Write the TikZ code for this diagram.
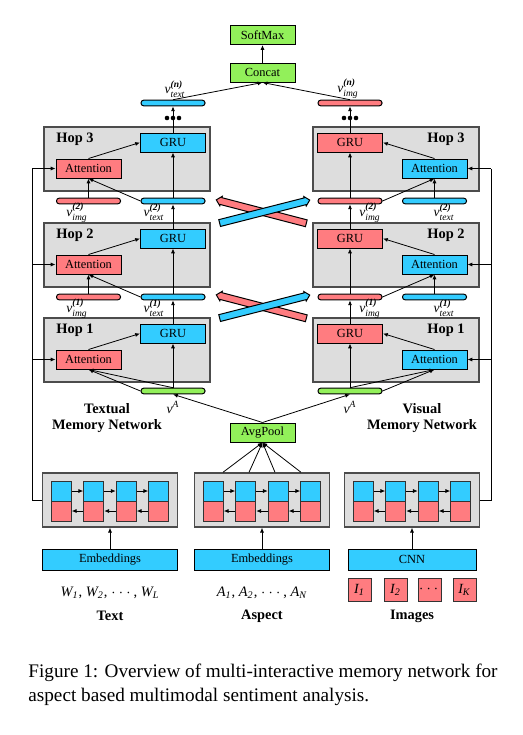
\documentclass[tikz,border=0pt]{standalone}
\usepackage{amsmath}
\usepackage{fontspec}
\setmainfont{Liberation Serif}
\usetikzlibrary{arrows.meta,shapes.arrows}
\definecolor{txtblue}{RGB}{51,204,255}
\definecolor{imgred}{RGB}{255,124,128}
\definecolor{poolgreen}{RGB}{146,240,90}
\definecolor{hopgray}{RGB}{221,221,221}
\newcommand{\vvec}[2]{$\textit{v}^{\textbf{\textit{(#2)}}}_{\textit{#1}}$}

\begin{document}
\begin{tikzpicture}[x=0.5pt,y=-0.5pt,
      pointers/.style={-{Latex[length=2.4pt,width=2pt]},line width=0.4pt},%
      hop/.style={draw=black!70,fill=hopgray,line width=0.7pt,%
        minimum width=83pt,minimum height=32pt,inner sep=0pt},%
      encoder/.style={hop,minimum width=67.5pt,minimum height=27pt},%
      unit/.style={draw,line width=0.5pt,minimum width=32.5pt,%
        minimum height=9.5pt,inner sep=0pt,font=\fontsize{6.2}{7}\selectfont},%
      blueunit/.style={unit,fill=txtblue},%
      redunit/.style={unit,fill=imgred},%
      greenunit/.style={unit,fill=poolgreen},%
      embed/.style={unit,fill=txtblue,minimum width=67.5pt,minimum height=10.5pt},%
      cell/.style={draw=black!80,line width=0.5pt,minimum size=10pt,inner sep=0pt},%
      vecbar/.style={draw,line width=0.5pt,rounded corners=1.3pt,%
        minimum width=32pt,minimum height=2.8pt,inner sep=0pt},%
      crossarrow/.style={single arrow,draw,line width=0.5pt,minimum height=46.5pt,%
        inner xsep=0pt,inner ysep=1.5pt,single arrow head extend=0.7pt},%
      hoplabel/.style={font=\fontsize{7.2}{8}\selectfont\bfseries},%
      vlabel/.style={font=\fontsize{6.8}{8}\selectfont,inner sep=0pt},%
      inlabel/.style={font=\fontsize{7.2}{8}\selectfont},%
      caption/.style={font=\fontsize{9.6}{12}\selectfont,anchor=base west,inner sep=0pt}%
      ]
      \useasboundingbox (0,0) rectangle (523,735);%
      %% output part
      \node[greenunit] (softmax) at (262.5,35) {SoftMax};%
      \node[greenunit] (concat) at (262.5,72.5) {Concat};%
      \draw[pointers] (concat) -- (softmax);%
      %% hops of both memory networks
      \foreach \h/\y in {1/350,2/255,3/159} {%
        \node[hop] (hopL\h) at (127,\y) {};%
        \node[hop] (hopR\h) at (396,\y) {};%
        \node[blueunit] (gruL\h) at (173,\y-16.5) {GRU};%
        \node[redunit] (attL\h) at (88.5,\y+9.5) {Attention};%
        \node[redunit] (gruR\h) at (350,\y-16.5) {GRU};%
        \node[blueunit] (attR\h) at (434.5,\y+9.5) {Attention};%
        \node[hoplabel] (hlabL\h) at (75,\y-19.5) {Hop \h};%
        \node[hoplabel] (hlabR\h) at (446,\y-19.5) {Hop \h};%
      }%
      %% vectors between the hops
      \node[vecbar,fill=poolgreen] (gL) at (173,391) {};%
      \node[vecbar,fill=poolgreen] (gR) at (350,391) {};%
      \foreach \k/\y in {1/297,2/201} {%
        \node[vecbar,fill=imgred] (iL\k) at (88.5,\y) {};%
        \node[vecbar,fill=txtblue] (tL\k) at (173,\y) {};%
        \node[vecbar,fill=imgred] (iR\k) at (350,\y) {};%
        \node[vecbar,fill=txtblue] (tR\k) at (434.5,\y) {};%
        \node[vlabel] (liL\k) at (77,\y+11.5) {\vvec{img}{\k}};%
        \node[vlabel] (ltL\k) at (154,\y+11.5) {\vvec{text}{\k}};%
        \node[vlabel] (liR\k) at (370,\y+11.5) {\vvec{img}{\k}};%
        \node[vlabel] (ltR\k) at (444,\y+11.5) {\vvec{text}{\k}};%
      }%
      \node[vecbar,fill=txtblue] (tL3) at (173,103) {};%
      \node[vecbar,fill=imgred] (iR3) at (350,103) {};%
      \node[vlabel] (ltL3) at (175,89) {\vvec{text}{n}};%
      \node[vlabel] (liR3) at (348,89) {\vvec{img}{n}};%
      \node[vlabel] (vAL) at (173,407) {$\textit{v}^{\textit{A}}$};%
      \node[vlabel] (vAR) at (350,407) {$\textit{v}^{\textit{A}}$};%
      %% crossing
      \foreach \y in {212,307} {%
        \node[crossarrow,fill=imgred,rotate=165.4] at (263,\y) {};%
        \node[crossarrow,fill=txtblue,rotate=14.3] at (263,\y) {};%
      }%
      %% arrows inside the hops
      \foreach \h/\ti/\ii/\tr/\ir in {1/gL/gL/gR/gR,2/tL1/iL1/tR1/iR1,3/tL2/iL2/tR2/iR2} {%
        \draw[pointers] (attL\h.north) -- (gruL\h.west);%
        \draw[pointers] (\ti.north) -- (gruL\h.south);%
        \draw[pointers] (\ti.west) -- (attL\h.south);%
        \draw[pointers] (\ii.north) -- (attL\h.south);%
        \draw[pointers] (attR\h.north) -- (gruR\h.east);%
        \draw[pointers] (\ir.north) -- (gruR\h.south);%
        \draw[pointers] (\ir.east) -- (attR\h.south);%
        \draw[pointers] (\tr.north) -- (attR\h.south);%
      }%
      %% outputs of the hops
      \foreach \h in {1,2,3} {%
        \draw[pointers] (gruL\h.north) -- (tL\h.south);%
        \draw[pointers] (gruR\h.north) -- (iR\h.south);%
      }%
      \foreach \x in {173,350} {%
        \foreach \d in {-6,0,6} {%
          \fill ({\x+(\d)},118) circle (1.15pt);%
        }%
      }%
      \draw[pointers] (tL3.north) -- (concat.south);%
      \draw[pointers] (iR3.north) -- (concat.south);%
      %% aspect pooling
      \node[greenunit] (avg) at (262.5,432.5) {AvgPool};%
      \draw[pointers] (avg.north) -- (gL.south);%
      \draw[pointers] (avg.north) -- (gR.south);%
      \node[hoplabel,align=center] (tmn) at (107,418) {Textual\\Memory Network};%
      \node[hoplabel,align=center] (vmn) at (422,418) {Visual\\Memory Network};%
      %% encoders
      \foreach \e/\cx in {encL/110,encA/262,encI/412} {%
        \node[encoder] (\e) at (\cx,500) {};%
        \foreach \i/\dx in {1/-48.75,2/-16.25,3/16.25,4/48.75} {%
          \node[cell,fill=txtblue] (\e-b\i) at ({\cx+(\dx)},491) {};%
          \node[cell,fill=imgred] (\e-r\i) at ({\cx+(\dx)},511) {};%
        }%
        \foreach \i/\j in {1/2,2/3,3/4} {%
          \draw[pointers] (\e-b\i) -- (\e-b\j);%
          \draw[pointers] (\e-r\j) -- (\e-r\i);%
        }%
      }%
      \foreach \d in {-39,-13,13,39} {%
        \draw[pointers] (encA.north) ++(\d,0) -- (avg.south);%
      }%
      %% memories into the attentions
      \coordinate (feedL) at (32,500);%
      \coordinate (feedR) at (491,500);%
      \draw[line width=0.4pt] (encL.west) -- (feedL) -- (feedL |- attL3.west);%
      \draw[line width=0.4pt] (encI.east) -- (feedR) -- (feedR |- attR3.east);%
      \foreach \h in {1,2,3} {%
        \draw[pointers] (feedL |- attL\h.west) -- (attL\h.west);%
        \draw[pointers] (feedR |- attR\h.east) -- (attR\h.east);%
      }%
      %% inputs
      \node[embed] (embL) at (110,559.5) {Embeddings};%
      \node[embed] (embA) at (262,559.5) {Embeddings};%
      \node[embed,minimum width=64pt] (cnn) at (412,559.5) {CNN};%
      \foreach \e/\m in {encL/embL,encA/embA,encI/cnn} {%
        \draw[pointers] (\m.north) -- (\e.south);%
      }%
      \node[inlabel] (words) at (110,593)
      {$\textit{W}_{\textit{1}}$, $\textit{W}_{\textit{2}}$, $\cdots$, $\textit{W}_{\textit{L}}$};%
      \node[inlabel] (aspects) at (262,593)
      {$\textit{A}_{\textit{1}}$, $\textit{A}_{\textit{2}}$, $\cdots$, $\textit{A}_{\textit{N}}$};%
      \foreach \i/\x/\t in {1/359.5/$\textit{I}_{\textit{1}}$,2/395.5/$\textit{I}_{\textit{2}}$,%
        3/430/$\cdots$,4/464.5/$\textit{I}_{\textit{K}}$} {%
        \node[cell,fill=imgred,minimum size=11.5pt,font=\fontsize{7}{8}\selectfont]
        (img\i) at (\x,589.5) {\t};%
      }%
      \node[hoplabel] (ttext) at (110,616) {Text};%
      \node[hoplabel] (taspect) at (262,616) {Aspect};%
      \node[hoplabel] (timages) at (412,616) {Images};%
      %% caption
      \node[caption] (cap1) at (28,677)
      {Figure 1: Overview of multi-interactive memory network for};%
      \node[caption] (cap2) at (28,701)
      {aspect based multimodal sentiment analysis.};%
    \end{tikzpicture}
\end{document}
